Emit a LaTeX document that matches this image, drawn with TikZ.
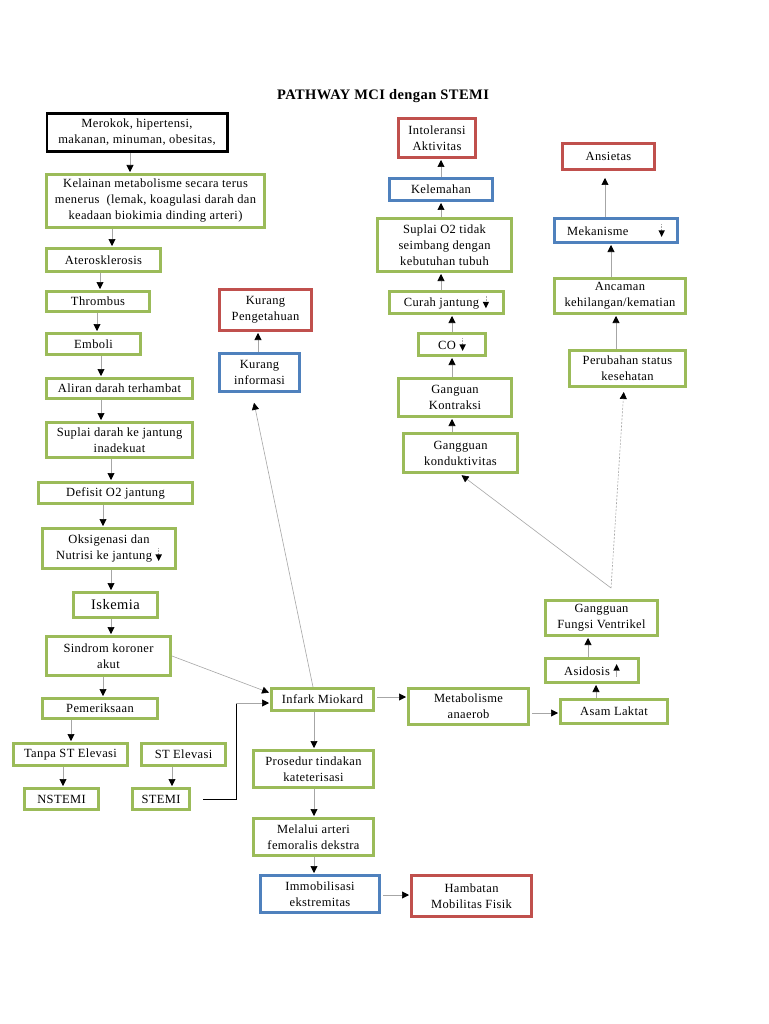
\documentclass[tikz,border=0pt]{standalone}
\usepackage{fontspec}
\setmainfont[LetterSpace=3]{Liberation Serif}
\usetikzlibrary{arrows.meta}
\definecolor{grn}{HTML}{9BBB59}
\definecolor{rd}{HTML}{C0504D}
\definecolor{bl}{HTML}{4F81BD}
\definecolor{ln}{HTML}{A6A6A6}
\newcommand{\bodyfont}{\fontsize{12.5}{16}\selectfont}
\newcommand{\dnarr}{\tikz[baseline=0pt]{\draw[ln,densely dotted,line width=0.5pt] (0pt,11pt)--(0pt,4pt); \fill[black] (-3.2pt,5pt)--(3.2pt,5pt)--(0pt,-1.5pt)--cycle;}}
\newcommand{\uparr}{\tikz[baseline=0pt]{\draw[ln,line width=0.5pt] (0pt,-1pt)--(0pt,5pt); \fill[black] (-3.2pt,5pt)--(3.2pt,5pt)--(0pt,11.5pt)--cycle;}}
\tikzset{
  box/.style={line width=2.6pt, align=center, inner sep=1pt, font=\bodyfont},
  gbox/.style={box, draw=grn},
  rbox/.style={box, draw=rd},
  bbox/.style={box, draw=bl},
  kbox/.style={box, draw=black},
  sz/.style 2 args={minimum width=#1pt-2.6pt, minimum height=#2pt-2.6pt},
  conn/.style={draw=ln, line width=0.6pt, shorten >=1pt, -{Triangle[color=black,fill=black,length=7pt,width=7pt]}},
  dconn/.style={conn, dash pattern=on 2pt off 1.5pt},
}
\begin{document}
\begin{tikzpicture}[x=1pt,y=-1pt]
\useasboundingbox (0,0) rectangle (768,1024);
\fill[white] (0,0) rectangle (768,1024);
\node[font=\bfseries\fontsize{14.5}{17}\selectfont] (title) at (383,96) {PATHWAY MCI dengan STEMI};

% left column
\node[kbox, sz={183}{41}] (merokok) at (137,132.5) {Merokok, hipertensi,\\ makanan, minuman, obesitas,};
\node[gbox, sz={221}{56}] (kelainan) at (155.5,201) {Kelainan metabolisme secara terus\\ menerus\ \ (lemak, koagulasi darah dan\\ keadaan biokimia dinding arteri)};
\node[gbox, sz={117}{26}] (ateros) at (103.5,260) {Aterosklerosis};
\node[gbox, sz={106}{23}] (thrombus) at (98,301.5) {Thrombus};
\node[gbox, sz={97}{24}] (emboli) at (93.5,344) {Emboli};
\node[gbox, sz={149}{23}] (aliran) at (119.5,388.5) {Aliran darah terhambat};
\node[gbox, sz={149}{38}] (suplaidarah) at (119.5,440) {Suplai darah ke jantung\\ inadekuat};
\node[gbox, sz={157}{24}] (defisit) at (115.5,493) {Defisit O2 jantung};
\node[gbox, sz={136}{43}] (oksi) at (109,548.5) {Oksigenasi dan\\ Nutrisi ke jantung \dnarr};
\node[gbox, sz={87}{28}, font=\fontsize{14.5}{17}\selectfont] (iskemia) at (115.5,605) {Iskemia};
\node[gbox, sz={127}{42}] (sindrom) at (108.5,656) {Sindrom koroner\\ akut};
\node[gbox, sz={118}{23}] (pemeriksaan) at (100,708.5) {Pemeriksaan};
\node[gbox, sz={117}{25}] (tanpa) at (70.5,754.5) {Tanpa ST Elevasi};
\node[gbox, sz={87}{25}] (stelev) at (183.5,754.5) {ST Elevasi};
\node[gbox, sz={77}{24}] (nstemi) at (61.5,799) {NSTEMI};
\node[gbox, sz={60}{24}] (stemi) at (161,799) {STEMI};

% centre column
\node[rbox, sz={95}{44}] (kpeng) at (265.5,310) {Kurang\\ Pengetahuan};
\node[bbox, sz={83}{41}] (kinfo) at (259.5,372.5) {Kurang\\ informasi};
\node[gbox, sz={105}{25}] (infark) at (322.5,699.5) {Infark Miokard};
\node[gbox, sz={123}{40}] (prosedur) at (313.5,769) {Prosedur tindakan\\ kateterisasi};
\node[gbox, sz={123}{40}] (melalui) at (313.5,837) {Melalui arteri\\ femoralis dekstra};
\node[bbox, sz={122}{40}] (immob) at (320,894) {Immobilisasi\\ ekstremitas};
\node[rbox, sz={123}{44}] (hambatan) at (471.5,896) {Hambatan\\ Mobilitas Fisik};
\node[gbox, sz={123}{39}] (metab) at (468.5,706.5) {Metabolisme\\ anaerob};

% right bottom
\node[gbox, sz={115}{38}] (fungsi) at (601.5,618) {Gangguan\\ Fungsi Ventrikel};
\node[gbox, sz={96}{27}] (asidosis) at (592,670.5) {Asidosis \uparr};
\node[gbox, sz={110}{27}] (asam) at (614,711.5) {Asam Laktat};
\coordinate (j) at (611,588);

% right top, first column
\node[rbox, sz={80}{42}] (intol) at (437,138) {Intoleransi\\ Aktivitas};
\node[bbox, sz={106}{25}] (kelemahan) at (441,189.5) {Kelemahan};
\node[gbox, sz={137}{56}] (suplaio2) at (444.5,245) {Suplai O2 tidak\\ seimbang dengan\\ kebutuhan tubuh};
\node[gbox, sz={117}{25}] (curah) at (446.5,302.5) {Curah jantung \dnarr};
\node[gbox, sz={70}{25}] (co) at (452,344.5) {CO \dnarr};
\node[gbox, sz={116}{41}] (kontraksi) at (455,397.5) {Ganguan\\ Kontraksi};
\node[gbox, sz={117}{42}] (kondukt) at (460.5,453) {Gangguan\\ konduktivitas};

% right top, second column
\node[rbox, sz={95}{29}] (ansietas) at (608.5,156.5) {Ansietas};
\node[bbox, sz={126}{27}] (mekanisme) at (616,230.5) {Mekanisme\hspace{30pt}\dnarr};
\node[gbox, sz={134}{38}] (ancaman) at (620,296) {Ancaman\\ kehilangan/kematian};
\node[gbox, sz={119}{39}] (perubahan) at (627.5,368.5) {Perubahan status\\ kesehatan};

% connectors, left column
\draw[conn] (merokok.south -| 130,0) -- (kelainan.north -| 130,0);
\draw[conn] (kelainan.south -| 112,0) -- (ateros.north -| 112,0);
\draw[conn] (ateros.south -| 100,0) -- (thrombus.north -| 100,0);
\draw[conn] (thrombus.south -| 97,0) -- (emboli.north -| 97,0);
\draw[conn] (emboli.south -| 101,0) -- (aliran.north -| 101,0);
\draw[conn] (aliran.south -| 101,0) -- (suplaidarah.north -| 101,0);
\draw[conn] (suplaidarah.south -| 111,0) -- (defisit.north -| 111,0);
\draw[conn] (defisit.south -| 103,0) -- (oksi.north -| 103,0);
\draw[conn] (oksi.south -| 111,0) -- (iskemia.north -| 111,0);
\draw[conn] (iskemia.south -| 111,0) -- (sindrom.north -| 111,0);
\draw[conn] (sindrom.south -| 103,0) -- (pemeriksaan.north -| 103,0);
\draw[conn] (pemeriksaan.south -| 71,0) -- (tanpa.north -| 71,0);
\draw[conn] (tanpa.south -| 63,0) -- (nstemi.north -| 63,0);
\draw[conn] (stelev.south -| 172,0) -- (stemi.north -| 172,0);

% to infark
\draw[conn] (sindrom.east) -- (infark.west |- 0,693);
\coordinate (bend) at (236,703);
\draw[black, line width=0.9pt] ([xshift=12pt]stemi.east) -| (bend);
\draw[conn] (bend) -- (infark.west |- bend);

% centre
\draw[conn, shorten >=10pt] (infark.north -| 313,0) -- (kinfo.south -| 252,0);
\draw[conn] (kinfo.north -| 258,0) -- (kpeng.south -| 258,0);
\draw[conn] (infark.south -| 314,0) -- (prosedur.north -| 314,0);
\draw[conn] (prosedur.south -| 314,0) -- (melalui.north -| 314,0);
\draw[conn] (melalui.south -| 314,0) -- (immob.north -| 314,0);
\draw[conn, shorten <=2pt] (immob.east |- 0,895) -- (hambatan.west |- 0,895);
\draw[conn, shorten <=2pt] (infark.east |- 0,697) -- (metab.west |- 0,697);
\draw[conn, shorten <=2pt] (metab.east |- 0,713) -- (asam.west |- 0,713);
\draw[conn] (asam.north -| 596,0) -- (asidosis.south -| 596,0);
\draw[conn] (asidosis.north -| 588,0) -- (fungsi.south -| 588,0);

% from ventricle junction
\draw[conn, shorten >=2pt] (j) -- (kondukt.south -| 460,0);
\draw[dconn, shorten >=4pt] (j) -- (perubahan.south -| 624,0);

% right top
\draw[conn] (kondukt.north -| 452,0) -- (kontraksi.south -| 452,0);
\draw[conn] (kontraksi.north -| 452,0) -- (co.south -| 452,0);
\draw[conn] (co.north -| 452,0) -- (curah.south -| 452,0);
\draw[conn] (curah.north -| 441,0) -- (suplaio2.south -| 441,0);
\draw[conn] (suplaio2.north -| 441,0) -- (kelemahan.south -| 441,0);
\draw[conn] (kelemahan.north -| 441,0) -- (intol.south -| 441,0);
\draw[conn] (perubahan.north -| 616,0) -- (ancaman.south -| 616,0);
\draw[conn] (ancaman.north -| 611,0) -- (mekanisme.south -| 611,0);
\draw[conn, shorten >=7pt] (mekanisme.north -| 605,0) -- (ansietas.south -| 605,0);
\end{tikzpicture}
\end{document}
